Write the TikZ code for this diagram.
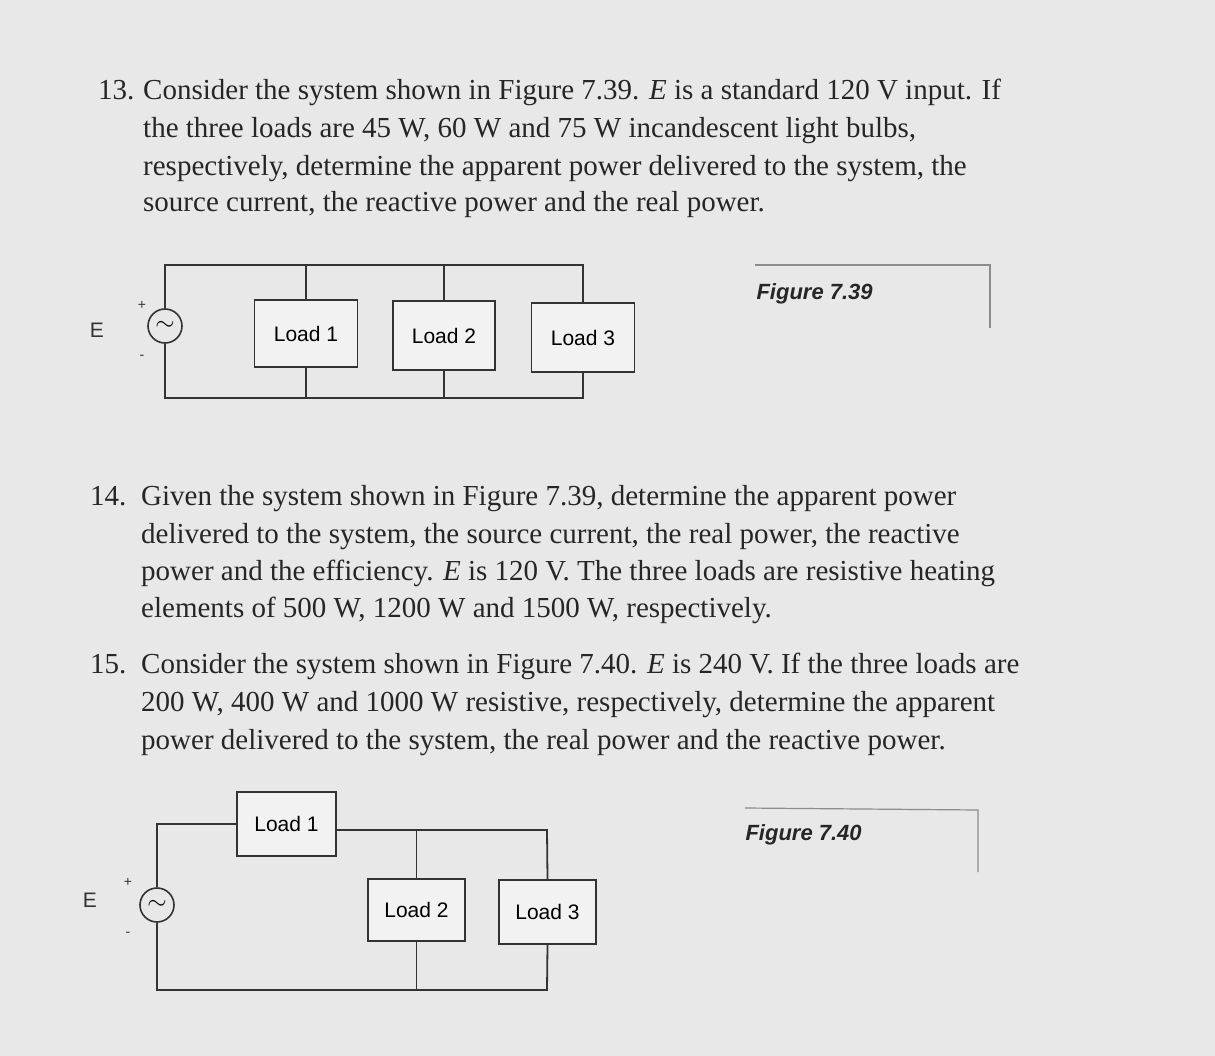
\documentclass[tikz,border=0pt]{standalone}
\usepackage{fontspec}
\setmainfont{Liberation Serif}
\newfontfamily\lsans{Liberation Sans}
\begin{document}
\begin{tikzpicture}[x=1pt,y=-1pt,
 txt/.style={anchor=base west,inner sep=0pt,font=\fontsize{29}{32}\selectfont,text=black!85},
 load/.style={draw=black!80,line width=1.8pt,fill=white!95!black,font=\lsans\fontsize{21}{24}\selectfont,inner sep=0pt},
 wire/.style={draw=black!80,line width=1.8pt},
 src/.style={circle,draw=black!80,line width=1.6pt,minimum size=34pt,inner sep=0pt,font=\fontsize{30}{30}\selectfont},
 lab/.style={font=\lsans\fontsize{21}{24}\selectfont,text=black!80},
 figl/.style={font=\lsans\bfseries\itshape\fontsize{22}{24}\selectfont,text=black!85,anchor=west},
 frame/.style={draw=black!45,line width=1.2pt}]
\fill[black!9] (0,0) rectangle (1215,1056);
% Problem 13
\node[txt] (n13) at (98,100) {13.};
\node[txt] (t13a) at (143,100) {Consider the system shown in Figure 7.39. \textit{E} is a standard 120 V input. If};
\node[txt] (t13b) at (143,138) {the three loads are 45 W, 60 W and 75 W incandescent light bulbs,};
\node[txt] (t13c) at (143,176) {respectively, determine the apparent power delivered to the system, the};
\node[txt] (t13d) at (143,212) {source current, the reactive power and the real power.};
% Fig 7.39
\node[src] (s1) at (165,326) {$\sim$};
\node[load,minimum width=103pt,minimum height=67pt] (a1) at (306,333.5) {Load 1};
\node[load,minimum width=102pt,minimum height=69pt] (a2) at (444,335.5) {Load 2};
\node[load,minimum width=103pt,minimum height=69pt] (a3) at (583,337.5) {Load 3};
\coordinate (tl) at (165,265); \coordinate (tr) at (583,265);
\coordinate (bl) at (165,398); \coordinate (br) at (583,398);
\draw[wire] (s1.north) -- (tl) -- (tr) -- (a3.north);
\draw[wire] (s1.south) -- (bl) -- (br) -- (a3.south);
\draw[wire] (a1.north) -- (a1.north|-tl); \draw[wire] (a1.south) -- (a1.south|-bl);
\draw[wire] (a2.north) -- (a2.north|-tl); \draw[wire] (a2.south) -- (a2.south|-bl);
\node[lab] (e1) at (97,330) {E};
\node[lab,font=\lsans\fontsize{14}{16}\selectfont] (p1) at (142,305) {+};
\node[lab,font=\lsans\fontsize{14}{16}\selectfont] (m1) at (142,357) {-};
\node[figl] (f1) at (753,294) {Figure 7.39};
\coordinate (f1a) at (755,265); \coordinate (f1b) at (990,265); \coordinate (f1c) at (990,328);
\draw[frame] (f1a) -- (f1b) -- (f1c);
% Problem 14
\node[txt] (n14) at (90,505) {14.};
\node[txt] (t14a) at (141,505) {Given the system shown in Figure 7.39, determine the apparent power};
\node[txt] (t14b) at (141,543) {delivered to the system, the source current, the real power, the reactive};
\node[txt] (t14c) at (141,580) {power and the efficiency. \textit{E} is 120 V. The three loads are resistive heating};
\node[txt] (t14d) at (141,617) {elements of 500 W, 1200 W and 1500 W, respectively.};
% Problem 15
\node[txt] (n15) at (90,673) {15.};
\node[txt] (t15a) at (141,673) {Consider the system shown in Figure 7.40. \textit{E} is 240 V. If the three loads are};
\node[txt] (t15b) at (141,711) {200 W, 400 W and 1000 W resistive, respectively, determine the apparent};
\node[txt] (t15c) at (141,749) {power delivered to the system, the real power and the reactive power.};
% Fig 7.40
\node[src] (s2) at (157,905) {$\sim$};
\node[load,minimum width=99pt,minimum height=64pt] (b1) at (286.5,824) {Load 1};
\node[load,minimum width=97pt,minimum height=62pt] (b2) at (416.5,910) {Load 2};
\node[load,minimum width=97pt,minimum height=64pt] (b3) at (547.5,912) {Load 3};
\coordinate (ul) at (157,824); \coordinate (ur) at (547,830); \coordinate (um) at (416.5,830);
\coordinate (dl) at (157,990); \coordinate (dr) at (547,990);
\draw[wire] (s2.north) -- (ul) -- (b1.west);
\draw[wire] (b1.east|-ur) -- (ur) -- (b3.north);
\draw[wire] (um) -- (b2.north);
\draw[wire] (s2.south) -- (dl) -- (dr) -- (b3.south);
\draw[wire] (b2.south) -- (b2.south|-dl);
\node[lab] (e2) at (90,900) {E};
\node[lab,font=\lsans\fontsize{14}{16}\selectfont] (p2) at (128,882) {+};
\node[lab,font=\lsans\fontsize{14}{16}\selectfont] (m2) at (128,934) {-};
\node[figl] (f2) at (742,835) {Figure 7.40};
\coordinate (f2a) at (745,808); \coordinate (f2b) at (978,810); \coordinate (f2c) at (978,872);
\draw[frame] (f2a) -- (f2b) -- (f2c);
\end{tikzpicture}
\end{document}
